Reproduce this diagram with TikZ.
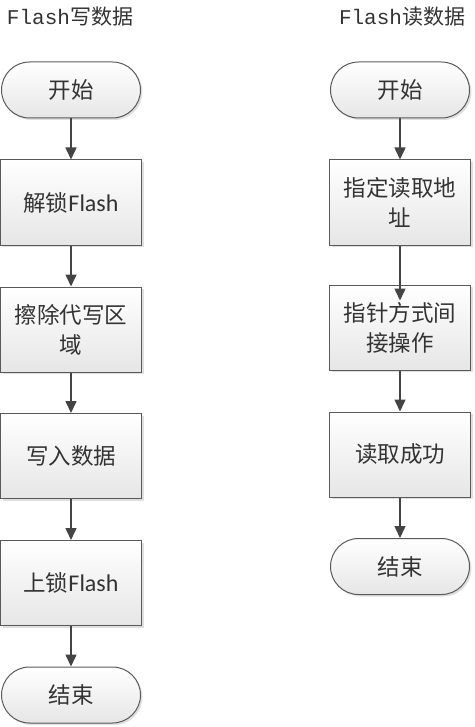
\documentclass[tikz,border=0pt]{standalone}
\usepackage{fontspec}
\setmainfont{Noto Sans CJK SC}
\newfontfamily\latinf{Carlito}
\newfontfamily\monof{Liberation Mono}
\usetikzlibrary{arrows.meta,shadows}
\definecolor{boxborder}{HTML}{5A5A5A}
\definecolor{boxbottom}{HTML}{E6E6E6}
\definecolor{textc}{HTML}{333333}
\definecolor{arrowc}{HTML}{444444}
\tikzset{
 base/.style={draw=boxborder, line width=1pt, top color=white, bottom color=boxbottom,
   text=textc, font=\fontsize{22.5}{30}\selectfont, align=center, inner sep=0pt,
   drop shadow={shadow xshift=2pt, shadow yshift=-2pt, opacity=0.25, fill=gray}},
 proc/.style={base, rectangle, minimum width=141pt, minimum height=85pt},
 term/.style={base, rectangle, rounded corners=28pt, minimum width=139pt, minimum height=56pt},
 flow/.style={-{Triangle[length=12pt,width=11pt]}, line width=1.5pt, draw=arrowc},
 titletext/.style={font=\fontsize{21}{24}\selectfont, text=textc, inner sep=0pt}
}
\newcommand{\fl}{{\latinf\fontsize{24}{30}\selectfont Flash}}
\begin{document}
\begin{tikzpicture}[x=1pt,y=-1pt]
\useasboundingbox (0,0) rectangle (474,727);
\node[titletext] (t1) at (70,17) {{\monof Flash}写数据};
\node[titletext] (t2) at (402,17) {{\monof Flash}读数据};
% left column
\node[term] (ls) at (71,90) {开始};
\node[proc] (l1) at (71,202.5) {解锁\fl};
\node[proc] (l2) at (71,329.5) {擦除代写区\\域};
\node[proc] (l3) at (71,456) {写入数据};
\node[proc] (l4) at (71,583) {上锁\fl};
\node[term] (le) at (71,695) {结束};
% right column
\node[term] (rs) at (400,90) {开始};
\node[proc] (r1) at (400,202.5) {指定读取地\\址};
\node[proc] (r2) at (400,327.5) {指针方式间\\接操作};
\node[proc] (r3) at (400,454.5) {读取成功};
\node[term] (re) at (400,566.5) {结束};
% arrows
\draw[flow] (ls) -- (l1);
\draw[flow] (l1) -- (l2);
\draw[flow] (l2) -- (l3);
\draw[flow] (l3) -- (l4);
\draw[flow] (l4) -- (le);
\draw[flow] (rs) -- (r1);
\draw[flow] (r1.south) -- ([yshift=-16pt]r2.north);
\draw[flow] (r2) -- (r3);
\draw[flow] (r3) -- (re);
\end{tikzpicture}
\end{document}
